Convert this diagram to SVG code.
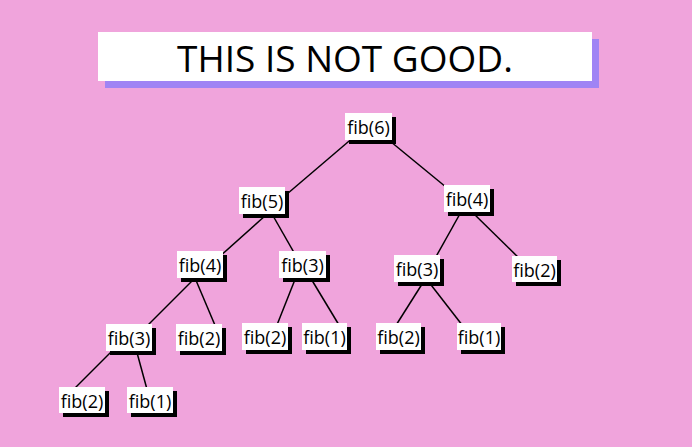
<svg xmlns="http://www.w3.org/2000/svg" width="692" height="447" viewBox="0 0 692 447">
<style>
.sh{fill:#000}
.bx{fill:#fff}
.t{font-family:"Open Sans","Noto Sans",sans-serif;font-size:18px;fill:#000;text-anchor:middle}
.e{stroke:#000;stroke-width:1.5;fill:none}
.title{font-family:"Open Sans","Noto Sans",sans-serif;font-size:37px;fill:#000;text-anchor:middle}
</style>
<rect width="692" height="447" fill="#f0a4dc"/>
<g id="title">
<rect x="105" y="39" width="494" height="49" fill="#a084f4"/>
<rect x="98" y="32" width="494" height="49" fill="#fff"/>
<text class="title" x="345" y="72">THIS IS NOT GOOD.</text>
</g>
<g id="edges">
<line class="e" x1="355" y1="136" x2="280" y2="200"/>
<line class="e" x1="385" y1="137" x2="452" y2="192"/>
<line class="e" x1="266" y1="215" x2="218" y2="258"/>
<line class="e" x1="272" y1="214" x2="296" y2="256"/>
<line class="e" x1="461" y1="212" x2="433" y2="262"/>
<line class="e" x1="472" y1="212" x2="524" y2="263"/>
<line class="e" x1="195" y1="278" x2="143" y2="330"/>
<line class="e" x1="195" y1="278" x2="217" y2="330"/>
<line class="e" x1="296" y1="277" x2="275" y2="330"/>
<line class="e" x1="310" y1="277" x2="342" y2="330"/>
<line class="e" x1="424" y1="281" x2="393" y2="330"/>
<line class="e" x1="428" y1="281" x2="466" y2="330"/>
<line class="e" x1="114" y1="349" x2="70" y2="393"/>
<line class="e" x1="136" y1="349" x2="148" y2="393"/>
</g>
<g id="n6"><rect class="sh" x="349" y="117" width="47" height="27"/><rect class="bx" x="345" y="113" width="47" height="27"/><text class="t" x="368.5" y="134">fib(6)</text></g>
<g id="n5"><rect class="sh" x="243" y="191" width="46" height="27"/><rect class="bx" x="239" y="187" width="46" height="27"/><text class="t" x="262" y="208">fib(5)</text></g>
<g id="n4a"><rect class="sh" x="181" y="255" width="46" height="27"/><rect class="bx" x="177" y="251" width="46" height="27"/><text class="t" x="200" y="272">fib(4)</text></g>
<g id="n3a"><rect class="sh" x="283" y="255" width="47" height="27"/><rect class="bx" x="279" y="251" width="47" height="27"/><text class="t" x="302.5" y="272">fib(3)</text></g>
<g id="n4b"><rect class="sh" x="448" y="189" width="46" height="27"/><rect class="bx" x="444" y="185" width="46" height="27"/><text class="t" x="467" y="206">fib(4)</text></g>
<g id="n3b"><rect class="sh" x="398" y="259" width="46" height="27"/><rect class="bx" x="394" y="255" width="46" height="27"/><text class="t" x="417" y="276">fib(3)</text></g>
<g id="n2b"><rect class="sh" x="516" y="260" width="45" height="26"/><rect class="bx" x="512" y="256" width="45" height="26"/><text class="t" x="534.5" y="277">fib(2)</text></g>
<g id="n2c"><rect class="sh" x="246" y="327" width="46" height="27"/><rect class="bx" x="242" y="323" width="46" height="27"/><text class="t" x="265" y="344">fib(2)</text></g>
<g id="n1c"><rect class="sh" x="306" y="327" width="45" height="27"/><rect class="bx" x="302" y="323" width="45" height="27"/><text class="t" x="324.5" y="344">fib(1)</text></g>
<g id="n2d"><rect class="sh" x="380" y="327" width="45" height="27"/><rect class="bx" x="376" y="323" width="45" height="27"/><text class="t" x="398.5" y="344">fib(2)</text></g>
<g id="n1d"><rect class="sh" x="461" y="327" width="44" height="27"/><rect class="bx" x="457" y="323" width="44" height="27"/><text class="t" x="479" y="344">fib(1)</text></g>
<g id="n3c"><rect class="sh" x="110" y="328" width="46" height="27"/><rect class="bx" x="106" y="324" width="46" height="27"/><text class="t" x="129" y="345">fib(3)</text></g>
<g id="n2e"><rect class="sh" x="180" y="328" width="46" height="27"/><rect class="bx" x="176" y="324" width="46" height="27"/><text class="t" x="199" y="345">fib(2)</text></g>
<g id="n2f"><rect class="sh" x="63" y="391" width="46" height="26"/><rect class="bx" x="59" y="387" width="46" height="26"/><text class="t" x="82" y="408">fib(2)</text></g>
<g id="n1f"><rect class="sh" x="131" y="391" width="46" height="26"/><rect class="bx" x="127" y="387" width="46" height="26"/><text class="t" x="150" y="408">fib(1)</text></g>
</svg>
